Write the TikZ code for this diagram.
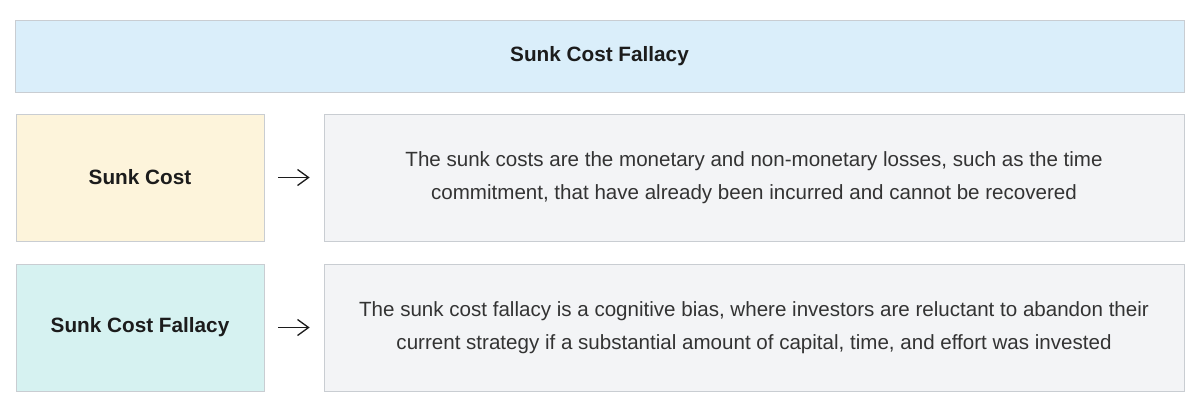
\documentclass[tikz,border=0pt]{standalone}
\usepackage{fontspec}
\usepackage{xcolor}
\usepackage{tikz}
\usetikzlibrary{arrows.meta}
\setmainfont{Liberation Sans}

\definecolor{titleblue}{HTML}{DAEEFA}
\definecolor{termcream}{HTML}{FDF4DB}
\definecolor{termteal}{HTML}{D6F2F1}
\definecolor{defgray}{HTML}{F3F4F6}
\definecolor{edgegray}{HTML}{C9CDD2}
\definecolor{inkdark}{HTML}{1C1C1C}

\begin{document}
\begin{tikzpicture}[
        title/.style={draw=edgegray, rectangle, minimum width=23.38cm, minimum height=1.44cm, fill=titleblue, font=\fontsize{11.8}{14}\selectfont\bfseries, text=inkdark},
        term/.style={draw=edgegray, rectangle, minimum width=4.96cm, minimum height=2.54cm, font=\fontsize{11.8}{14}\selectfont\bfseries, text=inkdark},
        defn/.style={draw=edgegray, rectangle, minimum width=17.2cm, minimum height=2.54cm, fill=defgray, align=center, font=\fontsize{11.7}{18.5}\selectfont, text=inkdark!90},
        arrow/.style={-{Straight Barb[length=2.2mm, width=3.2mm]}, line width=0.75pt, draw=inkdark, shorten <=0.28cm, shorten >=0.28cm}
    ]
    \useasboundingbox (0,0) rectangle (24,-8.22);

    % Title block
    \node[title] (head) at (11.99,-1.12) {Sunk Cost Fallacy};

    % Sunk cost row
    \node[term, fill=termcream] (cost) at (2.8,-3.55) {Sunk Cost};
    \node[defn] (costdef) at (15.08,-3.55) {The sunk costs are the monetary and non-monetary losses, such as the time\\commitment, that have already been incurred and cannot be recovered};

    % Fallacy row
    \node[term, fill=termteal] (fallacy) at (2.8,-6.55) {Sunk Cost Fallacy};
    \node[defn] (fallacydef) at (15.08,-6.55) {The sunk cost fallacy is a cognitive bias, where investors are reluctant to abandon their\\current strategy if a substantial amount of capital, time, and effort was invested};

    % Arrows between term and definition
    \draw[arrow] (cost) -- (costdef);
    \draw[arrow] (fallacy) -- (fallacydef);

\end{tikzpicture}
\end{document}
